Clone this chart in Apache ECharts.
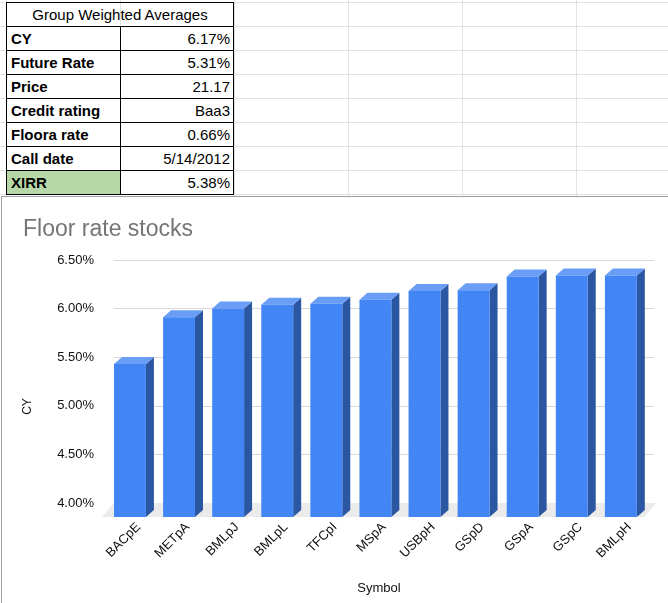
<!DOCTYPE html>
<html>
<head>
<meta charset="utf-8">
<script src="https://cdn.jsdelivr.net/npm/echarts@6/dist/echarts.min.js"></script>
<style>
  html, body { margin: 0; padding: 0; background: #fff; }
  body { width: 668px; height: 603px; position: relative; overflow: hidden; font-family: "Liberation Sans", Arial, sans-serif; }
  .gl { position: absolute; background: #e2e2e2; }
  #avg { position: absolute; left: 6px; top: 2px; border-collapse: collapse; font-size: 15px; color: #000; }
  #avg td { border: 1px solid #000; height: 23px; padding: 0 4px; line-height: 23px; white-space: nowrap; }
  #avg td.lbl { font-weight: bold; width: 105px; }
  #avg td.val { text-align: right; width: 105px; padding-right: 3px; }
  #avg td.head { text-align: center; }
  #box { position: absolute; left: 1px; top: 196px; width: 680px; height: 420px; border: 1px solid #9e9e9e; background: #fff; }
  #chart { position: absolute; left: 2px; top: 197px; width: 666px; height: 406px; }
</style>
</head>
<body>
<table id="avg"></table>
<div id="box"></div>
<div id="chart"></div>
<script>
// 汇总表
const tableTitle = 'Group Weighted Averages';
const tableLabels = ['CY', 'Future Rate', 'Price', 'Credit rating', 'Floora rate', 'Call date', 'XIRR'];
const tableValues = ['6.17%', '5.31%', '21.17', 'Baa3', '0.66%', '5/14/2012', '5.38%'];

// 柱状图数据
const symbols = ['BACpE', 'METpA', 'BMLpJ', 'BMLpL', 'TFCpI', 'MSpA', 'USBpH', 'GSpD', 'GSpA', 'GSpC', 'BMLpH'];
const cyValues = [5.43, 5.91, 6.00, 6.04, 6.05, 6.09, 6.18, 6.19, 6.33, 6.34, 6.34];
const yTicks = [4.0, 4.5, 5.0, 5.5, 6.0, 6.5];

// 表格背景网格线
for (let i = 0; i < 9; i++) {
    const d = document.createElement('div');
    d.className = 'gl';
    d.style.cssText = 'left:0;top:' + (2 + i * 24) + 'px;width:668px;height:1px';
    document.body.insertBefore(d, document.body.firstChild);
}
[6, 120, 234, 348, 462, 576].forEach(function(x) {
    const d = document.createElement('div');
    d.className = 'gl';
    d.style.cssText = 'left:' + x + 'px;top:0;width:1px;height:196px';
    document.body.insertBefore(d, document.body.firstChild);
});

const table = document.getElementById('avg');
let html = '<tr><td class="head" colspan="2">' + tableTitle + '</td></tr>';
tableLabels.forEach(function(l, i) {
    const bg = l === 'XIRR' ? ' style="background:#b6d7a8"' : '';
    html += '<tr><td class="lbl"' + bg + '>' + l + '</td><td class="val">' + tableValues[i] + '</td></tr>';
});
table.innerHTML = html;

// 3D 效果参数
const DX = 8, DY = 7;          // 柱子厚度
const FX = 12, FY = 14;        // 底面深度

function renderBar(params, api) {
    const idx = api.value(0);
    const top = api.coord([idx, api.value(1)]);
    const base = api.coord([idx, yTicks[0]]);
    const bw = api.size([1, 0])[0];
    const xl = top[0] - bw / 2;
    const xr = xl + bw * 0.65;
    const yt = top[1];
    const yb = base[1] + FY;
    return {
        type: 'group',
        children: [{
            type: 'polygon',
            shape: { points: [[xr, yt], [xr + DX, yt - DY], [xr + DX, yb - DY], [xr, yb]] },
            style: { fill: '#2b56a1' }
        }, {
            type: 'polygon',
            shape: { points: [[xl, yt], [xr, yt], [xr + DX, yt - DY], [xl + DX, yt - DY]] },
            style: { fill: '#6a9df5' }
        }, {
            type: 'rect',
            shape: { x: xl, y: yt, width: xr - xl, height: yb - yt },
            style: { fill: '#4285f4' }
        }]
    };
}

function renderFloor(params, api) {
    const first = api.coord([0, yTicks[0]]);
    const last = api.coord([symbols.length - 1, yTicks[0]]);
    const bw = api.size([1, 0])[0];
    const bl = first[0] - bw / 2, br = last[0] + bw / 2 + 2, y = first[1];
    return {
        type: 'polygon',
        shape: { points: [[bl, y], [br, y], [br - FX, y + FY], [bl - FX, y + FY]] },
        style: { fill: '#ebebeb' }
    };
}

const option = {
    animation: false,
    title: {
        text: 'Floor rate stocks',
        left: 16,
        top: 16,
        textStyle: { color: '#757575', fontSize: 23, fontWeight: 'normal', fontFamily: 'Liberation Sans, Arial' }
    },
    grid: { left: 112, right: 14, top: 63, bottom: 100 },
    xAxis: {
        type: 'category',
        data: symbols,
        name: 'Symbol',
        nameLocation: 'middle',
        nameGap: 79,
        nameTextStyle: { color: '#111', fontSize: 13, fontFamily: 'Liberation Sans, Arial', padding: [0, 10, 0, 0] },
        axisLine: { show: false },
        axisTick: { show: false },
        axisLabel: { rotate: 45, margin: 22, color: '#111', fontSize: 13, fontFamily: 'Liberation Sans, Arial', interval: 0 }
    },
    yAxis: {
        type: 'value',
        min: yTicks[0],
        max: yTicks[yTicks.length - 1],
        interval: 0.5,
        name: 'CY',
        nameLocation: 'middle',
        nameGap: 80,
        nameTextStyle: { color: '#111', fontSize: 12, fontFamily: 'Liberation Sans, Arial', padding: [0, 50, 0, 0] },
        axisLine: { show: false },
        axisTick: { show: false },
        axisLabel: {
            margin: 20, color: '#111', fontSize: 13, fontFamily: 'Liberation Sans, Arial',
            formatter: function(v) { return v.toFixed(2) + '%'; }
        },
        splitLine: { lineStyle: { color: '#d9d9d9' } }
    },
    series: [{
        type: 'custom',
        renderItem: renderFloor,
        data: [[0, yTicks[0]]],
        z: 1,
        silent: true
    }, {
        type: 'custom',
        renderItem: renderBar,
        data: cyValues.map(function(v, i) { return [i, v]; }),
        z: 2
    }]
};

const myChart = echarts.init(document.getElementById('chart'));
myChart.setOption(option);
</script>
</body>
</html>
